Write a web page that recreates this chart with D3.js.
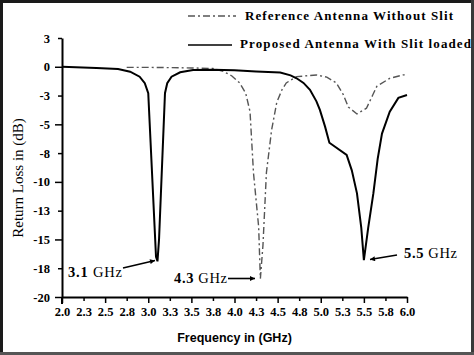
<!DOCTYPE html>
<html><head><meta charset="utf-8">
<script src="https://cdn.jsdelivr.net/npm/d3@7"></script>
<style>html,body{margin:0;padding:0;background:#fff;}svg{display:block;}</style>
</head><body>
<svg id="chart" width="474" height="355"></svg>
<script>
// ---- data ----
const xTickValues = [2.0,2.25,2.5,2.75,3.0,3.25,3.5,3.75,4.0,4.25,4.5,4.75,5.0,5.25,5.5,5.75,6.0];
const xTickLabels = ["2.0","2.3","2.5","2.8","3.0","3.3","3.5","3.8","4.0","4.3","4.5","4.8","5.0","5.3","5.5","5.8","6.0"];
const yTickValues = [2.5,0,-2.5,-5,-7.5,-10,-12.5,-15,-17.5,-20];
const yTickLabels = ["3","0","-3","-5","-8","-10","-13","-15","-18","-20"];

const proposedFreq = [2.0,2.4,2.65,2.79,2.9,2.96,3.0,3.09,3.107,3.125,3.194,3.22,3.27,3.37,3.52,3.75,4.0,4.25,4.53,4.65,4.72,4.8,4.875,4.95,4.99,5.05,5.10,5.30,5.36,5.42,5.47,5.50,5.55,5.61,5.66,5.71,5.80,5.90,6.0];
const proposedDb   = [0,-0.1,-0.2,-0.43,-0.86,-1.43,-2.3,-16.5,-16.9,-15.0,-2.3,-1.43,-0.86,-0.48,-0.28,-0.25,-0.3,-0.4,-0.5,-0.75,-1.0,-1.4,-2.0,-3.0,-3.75,-5.2,-6.6,-7.66,-9.0,-11.0,-14.0,-16.8,-14.0,-11.0,-8.0,-5.8,-3.9,-2.7,-2.45];

const referenceFreq = [2.75,3.0,3.5,3.75,3.87,3.97,4.06,4.13,4.18,4.22,4.28,4.30,4.33,4.37,4.43,4.49,4.55,4.60,4.72,4.95,5.07,5.18,5.26,5.32,5.42,5.53,5.60,5.65,5.80,5.96,6.0];
const referenceDb   = [-0.05,-0.05,-0.1,-0.15,-0.4,-0.8,-1.4,-2.3,-3.9,-9.2,-13.9,-18.4,-15.5,-9.2,-5.5,-3.1,-2.0,-1.4,-0.86,-0.71,-0.9,-1.4,-2.4,-3.5,-4.1,-3.6,-2.5,-1.7,-1.0,-0.7,-0.7];

const legendLabels = ["Reference Antenna Without Slit","Proposed Antenna With Slit loaded"];
const annotations = [
  {num:"3.1", unit:" GHz", f:3.107, db:-16.9},
  {num:"4.3", unit:" GHz", f:4.30, db:-18.4},
  {num:"5.5", unit:" GHz", f:5.50, db:-16.8}
];
const xTitle = "Frequency in (GHz)";
const yTitle = "Return Loss in (dB)";

// ---- drawing ----
const W = 474, H = 355;
const svg = d3.select("#chart");
const serif = "'Liberation Serif','Times New Roman',serif";
const sans = "'Liberation Sans',Arial,sans-serif";

const x = d3.scaleLinear().domain([2.0, 6.0]).range([62, 407]);
const y = d3.scaleLinear().domain([-20, 2.5]).range([297, 38]);

const defs = svg.append("defs");
defs.append("marker").attr("id","arr").attr("viewBox","0 0 10 10").attr("refX",10).attr("refY",5)
  .attr("markerWidth",7).attr("markerHeight",5).attr("orient","auto").attr("markerUnits","userSpaceOnUse")
  .append("path").attr("d","M0,0L10,5L0,10z").attr("fill","#000");

// axes
const xAxis = d3.axisBottom(x).tickValues(xTickValues)
  .tickFormat((d,i)=>xTickLabels[i]).tickSizeOuter(0).tickSize(0).tickPadding(10);
const gx = svg.append("g").attr("transform","translate(0,297)").call(xAxis);
gx.select(".domain").attr("stroke","#000").attr("stroke-width",2);
gx.selectAll(".tick line").remove();
gx.selectAll(".tick").append("line")
  .attr("y1",0).attr("y2",(d)=> (Math.abs(d*2-Math.round(d*2))<1e-6) ? 6 : 4)
  .attr("stroke","#000").attr("stroke-width",1.5);
gx.selectAll(".tick text").attr("font-family",serif).attr("font-weight","bold").attr("font-size","12.5px").attr("fill","#000");

const yAxis = d3.axisLeft(y).tickValues(yTickValues)
  .tickFormat((d,i)=>yTickLabels[i]).tickSizeOuter(0).tickSize(0).tickPadding(12);
const gy = svg.append("g").attr("transform","translate(62,0)").call(yAxis);
gy.select(".domain").attr("stroke","#000").attr("stroke-width",2);
gy.selectAll(".tick line").remove();
gy.selectAll(".tick").append("line")
  .attr("x1",0).attr("x2",(d)=> (d%5===0) ? -7 : -4)
  .attr("stroke","#000").attr("stroke-width",1.5);
gy.selectAll(".tick text").attr("font-family",serif).attr("font-weight","bold").attr("font-size","12.5px").attr("fill","#000");
svg.append("line").attr("x1",62).attr("x2",62).attr("y1",297).attr("y2",304).attr("stroke","#000").attr("stroke-width",2);

// lines
const line = d3.line().x(d=>x(d[0])).y(d=>y(d[1]));
const refData = referenceFreq.map((f,i)=>[f,referenceDb[i]]);
const propData = proposedFreq.map((f,i)=>[f,proposedDb[i]]);
svg.append("path").datum(refData).attr("d",line).attr("fill","none")
  .attr("stroke","#555").attr("stroke-width",1.4).attr("stroke-dasharray","7,3,2,3");
svg.append("path").datum(propData).attr("d",line).attr("fill","none")
  .attr("stroke","#000").attr("stroke-width",2);

// annotations
const annPos = [
  {tx:68, ty:277, len:54, x1:123, y1:268, x2:155, y2:260.5},
  {tx:174, ty:283, len:53, x1:228, y1:278.5, x2:255, y2:278.5},
  {tx:404, ty:258, len:53, x1:397, y1:255, x2:370, y2:259.5}
];
annotations.forEach((a,i)=>{
  const p = annPos[i];
  const t = svg.append("text").attr("x",p.tx).attr("y",p.ty).attr("font-family",serif)
    .attr("font-size","14.5px").attr("fill","#000").attr("textLength",p.len).attr("lengthAdjust","spacing");
  t.append("tspan").attr("font-weight","bold").text(a.num);
  t.append("tspan").text(a.unit);
  svg.append("line").attr("x1",p.x1).attr("y1",p.y1).attr("x2",p.x2).attr("y2",p.y2)
    .attr("stroke","#000").attr("stroke-width",1.6).attr("marker-end","url(#arr)");
});

// legend
svg.append("line").attr("x1",188).attr("x2",236).attr("y1",16).attr("y2",16)
  .attr("stroke","#555").attr("stroke-width",1.4).attr("stroke-dasharray","7,3,2,3");
svg.append("text").attr("x",245).attr("y",20).attr("font-family",serif).attr("font-weight","bold")
  .attr("font-size","13px").attr("fill","#000").attr("textLength",208).attr("lengthAdjust","spacing").text(legendLabels[0]);
svg.append("line").attr("x1",188).attr("x2",232).attr("y1",45).attr("y2",45)
  .attr("stroke","#000").attr("stroke-width",1.6);
svg.append("text").attr("x",240).attr("y",48).attr("font-family",serif).attr("font-weight","bold")
  .attr("font-size","13px").attr("fill","#000").attr("textLength",231).attr("lengthAdjust","spacing").text(legendLabels[1]);

// axis titles
svg.append("text").attr("x",234.5).attr("y",342).attr("text-anchor","middle")
  .attr("font-family",sans).attr("font-weight","bold").attr("font-size","12.5px").attr("fill","#000").text(xTitle);
svg.append("text").attr("transform","translate(23,178) rotate(-90)").attr("text-anchor","middle")
  .attr("font-family",serif).attr("font-size","15px").attr("fill","#000").text(yTitle);

// frame
svg.append("rect").attr("x",0).attr("y",0).attr("width",W).attr("height",3).attr("fill","#1a1a1a");
svg.append("rect").attr("x",0).attr("y",0).attr("width",3).attr("height",H).attr("fill","#1a1a1a");
svg.append("rect").attr("x",471).attr("y",0).attr("width",3).attr("height",H).attr("fill","#3a3a3a");
svg.append("rect").attr("x",0).attr("y",352).attr("width",W).attr("height",3).attr("fill","#555");
</script>
</body></html>
